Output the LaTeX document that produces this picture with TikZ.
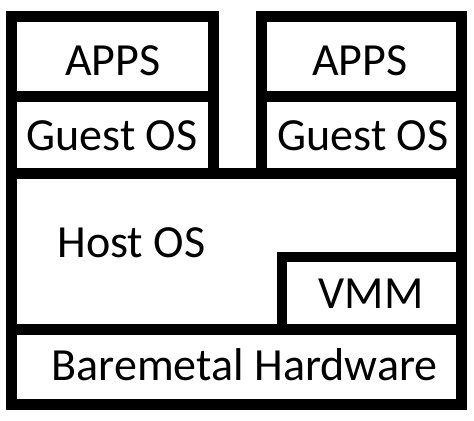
\documentclass[tikz,border=0pt]{standalone}
\usepackage{fontspec}
\setmainfont{Carlito}

\tikzset {
    layer/.style={draw=black, line width=6pt, fill=white},
    lbl/.style={anchor=base, inner sep=0pt, font=\fontsize{26.2}{30}\selectfont},
}

\begin{document}
\begin{tikzpicture}[x=0.02cm, y=-0.02cm]
    \useasboundingbox (0, 0) rectangle (474, 420);
    % host, vmm, hardware
    \draw [layer] (11.5, 173.5) rectangle (461.5, 329.5);
    \draw [layer] (282, 257) rectangle (461.5, 329.5);
    \draw [layer] (11.5, 329.5) rectangle (461.5, 404.5);
    % guests
    \draw [layer] (11.5, 16.5) rectangle (213.5, 96.5);
    \draw [layer] (11.5, 96.5) rectangle (213.5, 173.5);
    \draw [layer] (261.5, 16.5) rectangle (461.5, 96.5);
    \draw [layer] (261.5, 96.5) rectangle (461.5, 173.5);
    \node (apps1) at (113, 75) [lbl] {APPS};
    \node (guest1) at (112, 150) [lbl] {Guest OS};
    \node (apps2) at (360, 75) [lbl] {APPS};
    \node (guest2) at (363, 150) [lbl] {Guest OS};
    \node (host) at (131.5, 257) [lbl] {Host OS};
    \node (vmm) at (371, 308) [lbl] {VMM};
    \node (hw) at (244.5, 380) [lbl] {Baremetal Hardware};
\end{tikzpicture}
\end{document}
